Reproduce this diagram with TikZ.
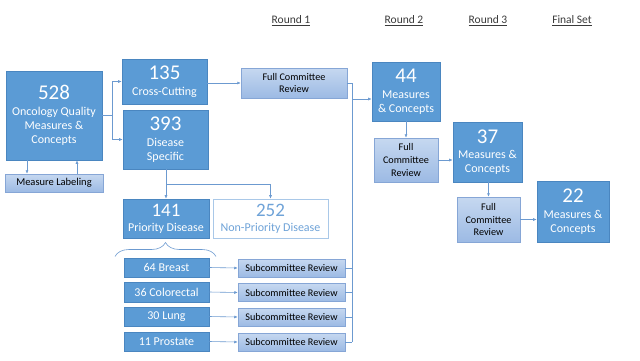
\documentclass[tikz,border=0pt]{standalone}
\usepackage{fontspec}
\setmainfont{Carlito}
\usetikzlibrary{arrows.meta,decorations.pathreplacing}
\definecolor{boxblue}{HTML}{5B9BD5}
\definecolor{boxedge}{HTML}{4A86C0}
\definecolor{revtop}{HTML}{C6D8F0}
\definecolor{revbot}{HTML}{9CBAE4}
\definecolor{revedge}{HTML}{86A6D6}
\definecolor{lineblue}{HTML}{6C9AD0}
\definecolor{npedge}{HTML}{A9C8E8}
\definecolor{nptext}{HTML}{6FA3D8}
\definecolor{hdr}{HTML}{3A3A3A}
\newcommand{\bigN}[1]{{\fontsize{21}{24}\selectfont #1}}
\tikzset{
  mainbox/.style={draw=boxedge, fill=boxblue, text=white, align=center, inner sep=0pt, line width=0.6pt, font=\fontsize{12}{14}\selectfont},
  revbox/.style={draw=revedge, top color=revtop, bottom color=revbot, text=black, align=center, inner sep=0pt, line width=0.5pt, font=\fontsize{10.2}{12.8}\selectfont},
  conn/.style={draw=lineblue, line width=0.6pt, -{Latex[length=3.5pt,width=3pt]}},
  plainconn/.style={draw=lineblue, line width=0.6pt},
  hdrtext/.style={text=hdr, font=\fontsize{11.5}{13}\selectfont, inner sep=0pt},
}
\begin{document}
\begin{tikzpicture}[x=1pt,y=-1pt]
\useasboundingbox (0,0) rectangle (640,360);
% headers
\node[hdrtext] (r1) at (291,21) {\underline{Round 1}};
\node[hdrtext] (r2) at (404,21) {\underline{Round 2}};
\node[hdrtext] (r3) at (488,21) {\underline{Round 3}};
\node[hdrtext] (fs) at (572,21) {\underline{Final Set}};
% main boxes
\node[mainbox, minimum width=96pt, minimum height=89pt] (onc) at (54,115.5) {\bigN{528}\\[2pt]Oncology Quality\\Measures \&\\Concepts};
\node[revbox, minimum width=98pt, minimum height=18pt, font=\fontsize{10.5}{12}\selectfont] (lab) at (54,183) {Measure Labeling};
\node[mainbox, minimum width=85pt, minimum height=45pt] (cc) at (164.5,81.5) {\bigN{135}\\[1.5pt]Cross-Cutting};
\node[mainbox, minimum width=85pt, minimum height=59pt] (ds) at (165.5,139.5) {\bigN{393}\\[1.5pt]Disease\\Specific};
\node[revbox, minimum width=106pt, minimum height=30pt] (fcr1) at (294,83) {Full Committee\\Review};
\node[mainbox, minimum width=68pt, minimum height=59pt] (m44) at (406,91.5) {\bigN{44}\\[1.5pt]Measures\\\& Concepts};
\node[revbox, minimum width=64pt, minimum height=44pt] (fcr2) at (406,160) {Full\\Committee\\Review};
\node[mainbox, minimum width=69pt, minimum height=60pt] (m37) at (487.5,152) {\bigN{37}\\[1.5pt]Measures \&\\Concepts};
\node[revbox, minimum width=63pt, minimum height=45pt] (fcr3) at (488.5,219.5) {Full\\Committee\\Review};
\node[mainbox, minimum width=72pt, minimum height=61pt] (m22) at (573,211.5) {\bigN{22}\\[1.5pt]Measures \&\\Concepts};
\node[mainbox, minimum width=86pt, minimum height=39pt] (pri) at (166,218.5) {{\fontsize{19}{21}\selectfont 141}\\[1pt]Priority Disease};
\node[mainbox, fill=white, draw=npedge, text=nptext, minimum width=115pt, minimum height=39pt] (npr) at (270.5,218.5) {{\fontsize{19}{21}\selectfont 252}\\[1pt]Non-Priority Disease};
% disease boxes
\node[mainbox, minimum width=85pt, minimum height=19pt] (br) at (166.5,267.5) {64 Breast};
\node[mainbox, minimum width=85pt, minimum height=20pt] (co) at (166.5,292) {36 Colorectal};
\node[mainbox, minimum width=85pt, minimum height=19pt] (lu) at (166.5,316.5) {30 Lung};
\node[mainbox, minimum width=85pt, minimum height=19pt] (pr) at (166.5,341.5) {11 Prostate};
\node[revbox, minimum width=107pt, minimum height=18pt] (s1) at (291.5,268) {Subcommittee Review};
\node[revbox, minimum width=107pt, minimum height=18pt] (s2) at (291.5,292.5) {Subcommittee Review};
\node[revbox, minimum width=107pt, minimum height=18pt] (s3) at (291.5,317) {Subcommittee Review};
\node[revbox, minimum width=107pt, minimum height=18pt] (s4) at (291.5,342) {Subcommittee Review};
% coordinates
\coordinate (spl) at (112,115.5);
\coordinate (dsj) at (166,184);
\coordinate (bus) at (352,83);
\coordinate (busend) at (352,342);
% connectors
\draw[conn] (onc.south -| 27,0) -- (lab.north -| 27,0);
\draw[conn] (lab.north -| 77,0) -- (onc.south -| 77,0);
\draw[plainconn] (onc.east |- spl) -- (spl);
\draw[conn] (spl) |- (cc.west);
\draw[conn] (spl) |- (ds.west);
\draw[conn] (cc.east |- fcr1) -- (fcr1.west);
\draw[plainconn] (ds.south -| dsj) -- (dsj);
\draw[conn] (dsj) -- (pri.north -| dsj);
\draw[conn] (dsj) -| (npr.north);
\draw[plainconn] (fcr1.east) -- (bus) -- (busend);
\draw[conn] (bus |- 0,99) -- (m44.west |- 0,99);
\draw[conn] (m44.south) -- (fcr2.north);
\draw[conn] (fcr2.east) -- (m37.west |- fcr2.east);
\draw[conn] (m37.south -| fcr3.north) -- (fcr3.north);
\draw[conn] (fcr3.east) -- (m22.west |- fcr3.east);
\draw[conn] (br.east) -- (s1.west);
\draw[conn] (co.east) -- (s2.west);
\draw[conn] (lu.east) -- (s3.west);
\draw[conn] (pr.east) -- (s4.west);
\draw[plainconn] (s1.east) -- (s1.east -| bus);
\draw[plainconn] (s2.east) -- (s2.east -| bus);
\draw[plainconn] (s3.east) -- (s3.east -| bus);
\draw[plainconn] (s4.east) -- (s4.east -| bus);
% brace
\draw[draw=lineblue, line width=0.6pt, decorate, decoration={brace, amplitude=14pt, aspect=0.5}] (115,256.5) -- (216,256.5);
\end{tikzpicture}
\end{document}
